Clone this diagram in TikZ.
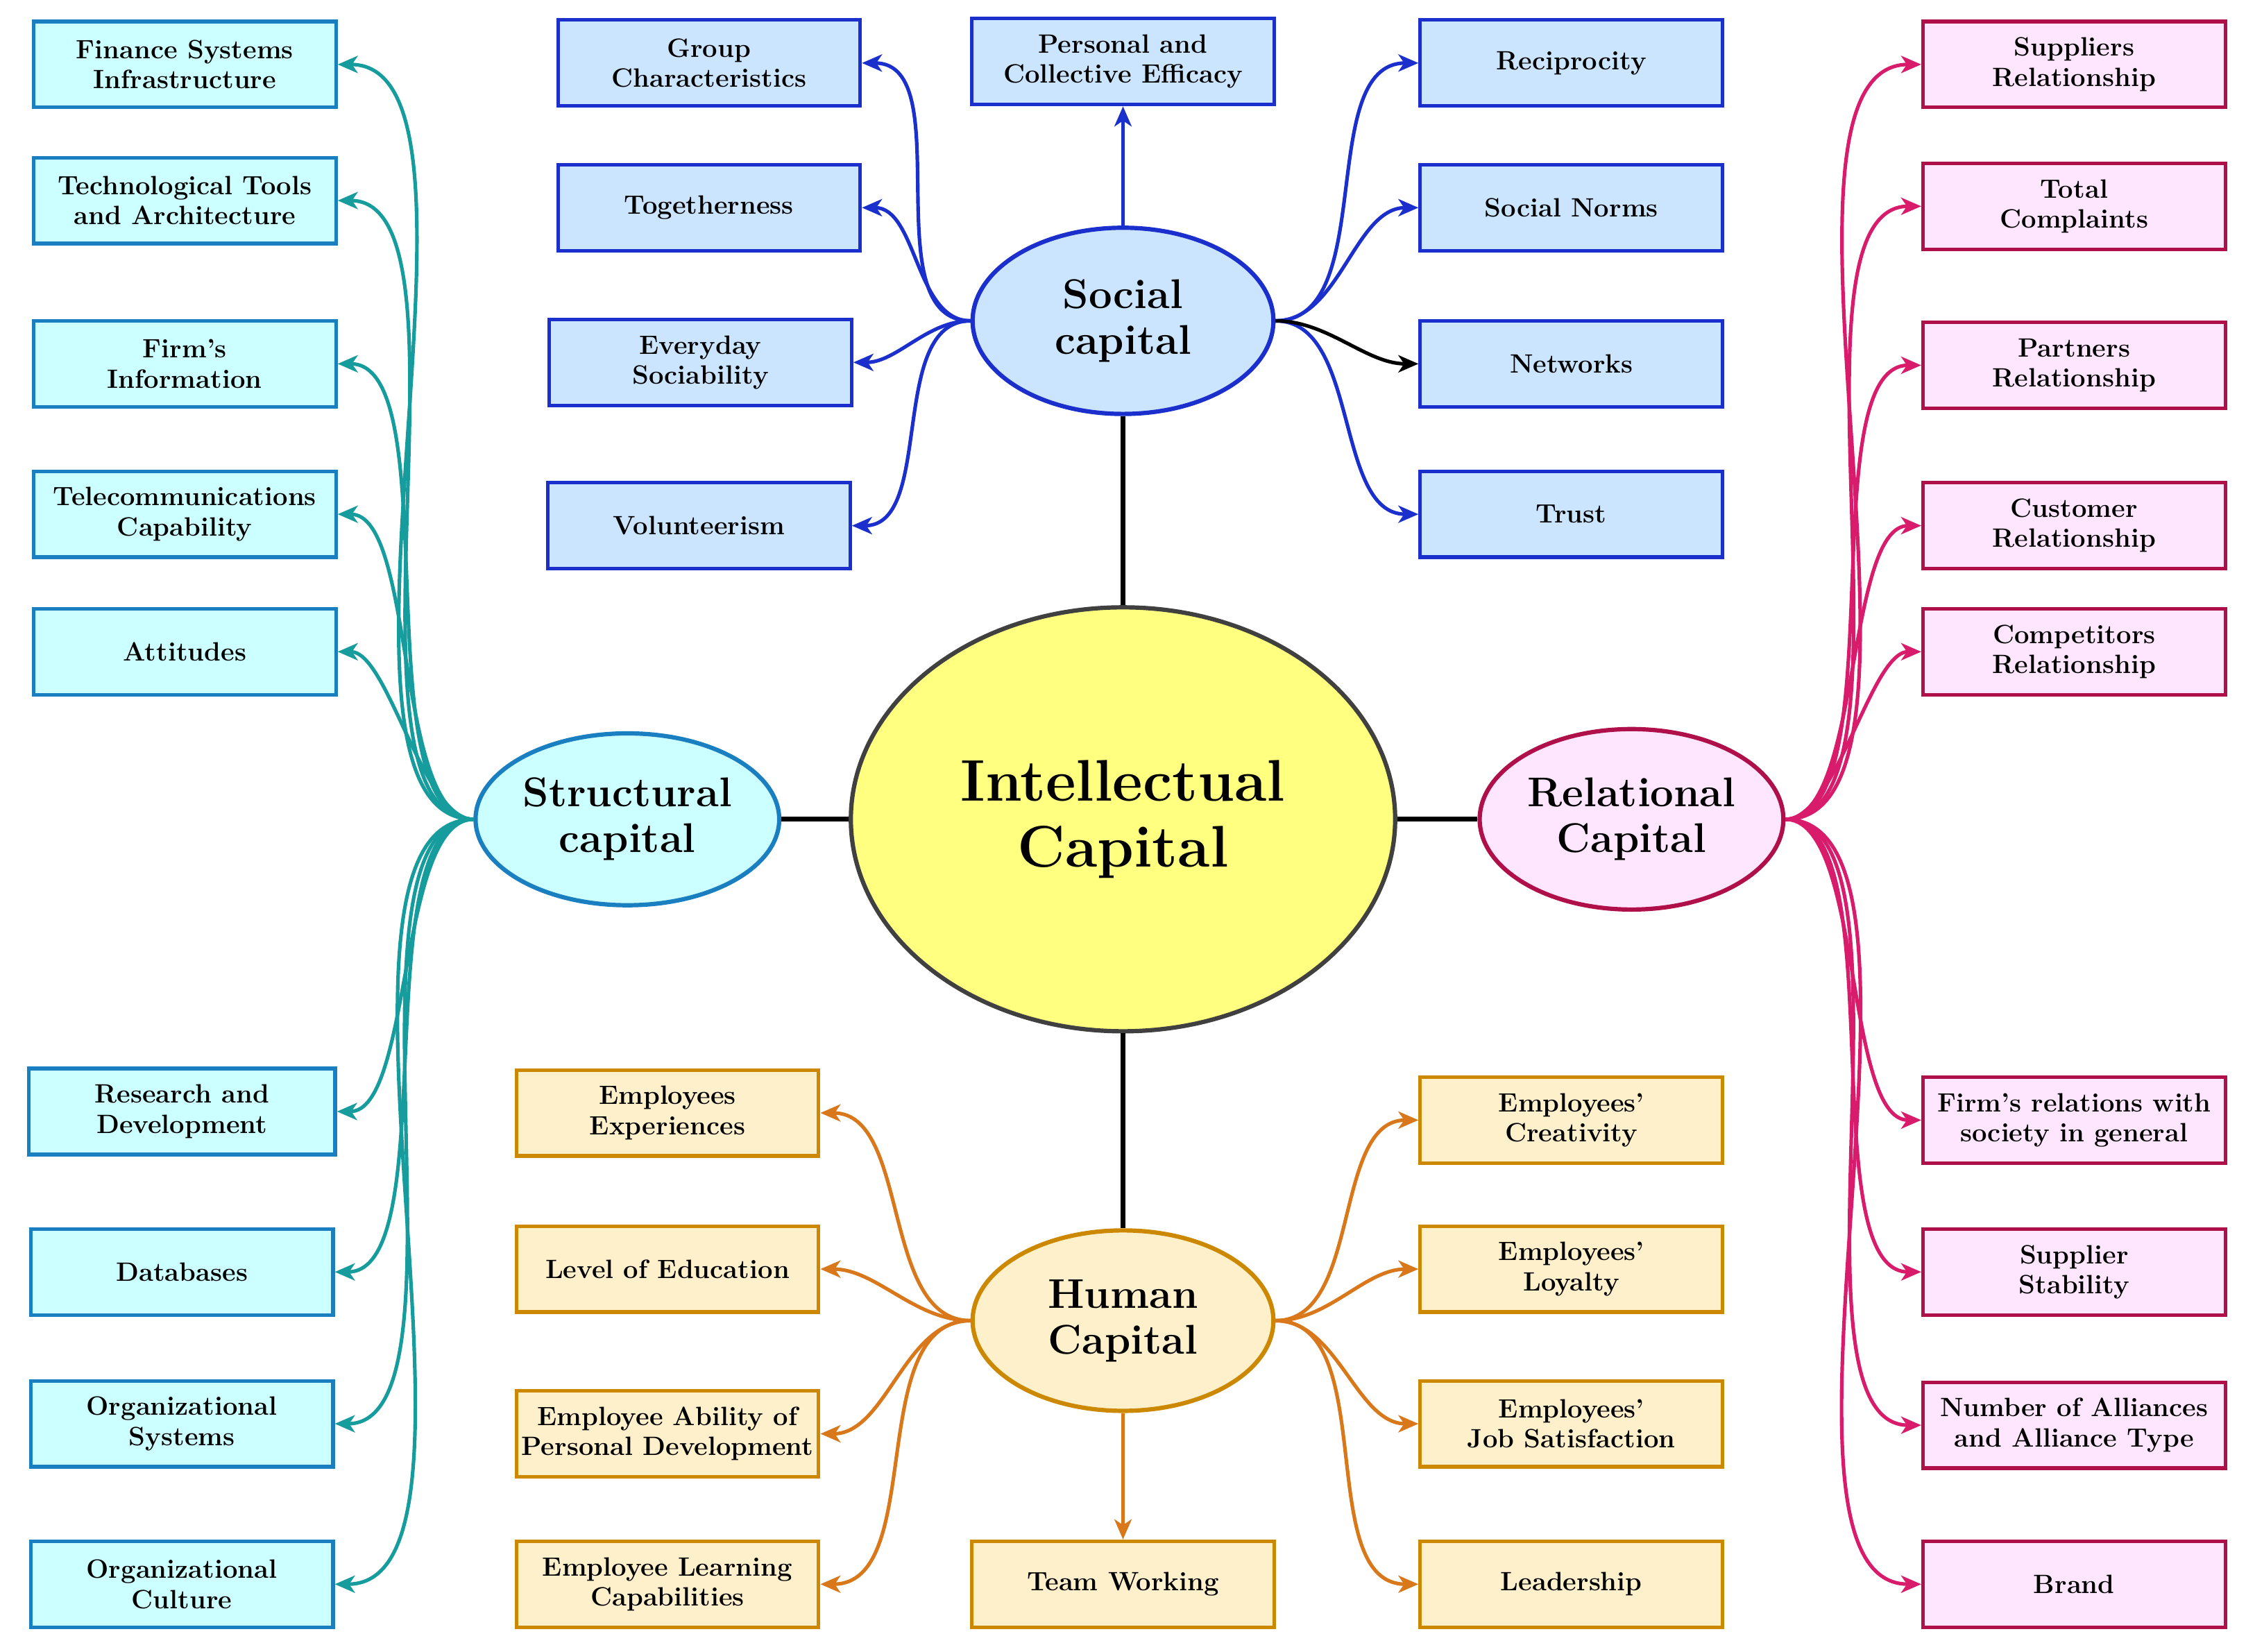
\documentclass[tikz,border=0pt]{standalone}
\usetikzlibrary{shapes.geometric,arrows.meta}
\definecolor{sfill}{HTML}{CCE5FF}\definecolor{sdraw}{HTML}{1A2FCC}
\definecolor{tfill}{HTML}{CCFFFF}\definecolor{tdraw}{HTML}{1A7FC0}\definecolor{tarr}{HTML}{169C9C}
\definecolor{rfill}{HTML}{FFE6FF}\definecolor{rdraw}{HTML}{B0104A}\definecolor{rarr}{HTML}{D81B6B}
\definecolor{hfill}{HTML}{FFF0CC}\definecolor{hdraw}{HTML}{CC8800}\definecolor{harr}{HTML}{D9781A}
\definecolor{cfill}{HTML}{FFFF80}
\begin{document}
\begin{tikzpicture}[x=1pt,y=-1pt,
 box/.style={draw,line width=2.5pt,minimum width=211pt,minimum height=60pt,inner sep=1pt,align=center,font=\fontsize{18.5}{21}\selectfont\bfseries},
 sb/.style={box,fill=sfill,draw=sdraw},
 tb/.style={box,fill=tfill,draw=tdraw},
 rb/.style={box,fill=rfill,draw=rdraw},
 hb/.style={box,fill=hfill,draw=hdraw},
 ell/.style={ellipse,line width=3pt,inner sep=0pt,align=center,font=\fontsize{29}{32}\selectfont\bfseries},
 arr/.style={line width=2.5pt,-{Stealth[length=14pt,width=12pt,inset=4pt]}},
 conn/.style={line width=3.5pt,black}]
\useasboundingbox (0,0) rectangle (1568,1153);
\node[ell,fill=cfill,draw=black!75,minimum width=380pt,minimum height=296pt,font=\fontsize{41}{46}\selectfont\bfseries] (C) at (784,572) {Intellectual\\Capital};
\node[ell,fill=sfill,draw=sdraw,minimum width=210pt,minimum height=130pt] (S) at (784,224) {Social\\capital};
\node[ell,fill=tfill,draw=tdraw,minimum width=212pt,minimum height=120pt] (T) at (438,572) {Structural\\capital};
\node[ell,fill=rfill,draw=rdraw,minimum width=212pt,minimum height=126pt] (R) at (1139,572) {Relational\\Capital};
\node[ell,fill=hfill,draw=hdraw,minimum width=210pt,minimum height=126pt] (H) at (784,922) {Human\\Capital};
\draw[conn] (C) -- (S); \draw[conn] (C) -- (T); \draw[conn] (C) -- (R); \draw[conn] (C) -- (H);
% social
\node[sb] (s1) at (495,44) {Group\\Characteristics};
\node[sb] (s2) at (495,145) {Togetherness};
\node[sb] (s3) at (489,253) {Everyday\\Sociability};
\node[sb] (s4) at (488,367) {Volunteerism};
\node[sb] (s5) at (784,43) {Personal and\\Collective Efficacy};
\node[sb] (s6) at (1097,44) {Reciprocity};
\node[sb] (s7) at (1097,145) {Social Norms};
\node[sb] (s8) at (1097,254) {Networks};
\node[sb] (s9) at (1097,359) {Trust};
\foreach \n in {s1,s2,s3,s4}{\draw[arr,sdraw] (S.west) to[out=180,in=0,looseness=0.9] (\n.east);}
\foreach \n in {s6,s7,s9}{\draw[arr,sdraw] (S.east) to[out=0,in=180,looseness=0.9] (\n.west);}
\draw[arr,black] (S.east) to[out=0,in=180,looseness=0.9] (s8.west);
\draw[arr,sdraw] (S.north) -- (s5.south);
% structural
\node[tb] (t1) at (129,45) {Finance Systems\\Infrastructure};
\node[tb] (t2) at (129,140) {Technological Tools\\and Architecture};
\node[tb] (t3) at (129,254) {Firm's\\Information};
\node[tb] (t4) at (129,359) {Telecommunications\\Capability};
\node[tb] (t5) at (129,455) {Attitudes};
\node[tb,minimum width=214pt] (t6) at (127,776) {Research and\\Development};
\node[tb] (t7) at (127,888) {Databases};
\node[tb] (t8) at (127,994) {Organizational\\Systems};
\node[tb] (t9) at (127,1106) {Organizational\\Culture};
\foreach \n in {t1,t2,t3,t4,t5,t6,t7,t8,t9}{\draw[arr,tarr] (T.west) to[out=180,in=0,looseness=0.6] (\n.east);}
% relational
\node[rb] (r1) at (1448,45) {Suppliers\\Relationship};
\node[rb] (r2) at (1448,144) {Total\\Complaints};
\node[rb] (r3) at (1448,255) {Partners\\Relationship};
\node[rb] (r4) at (1448,367) {Customer\\Relationship};
\node[rb] (r5) at (1448,455) {Competitors\\Relationship};
\node[rb] (r6) at (1448,782) {Firm's relations with\\society in general};
\node[rb] (r7) at (1448,888) {Supplier\\Stability};
\node[rb] (r8) at (1448,995) {Number of Alliances\\and Alliance Type};
\node[rb] (r9) at (1448,1106) {Brand};
\foreach \n in {r1,r2,r3,r4,r5,r6,r7,r8,r9}{\draw[arr,rarr] (R.east) to[out=0,in=180,looseness=0.6] (\n.west);}
% human
\node[hb] (h1) at (466,777) {Employees\\Experiences};
\node[hb] (h2) at (466,886) {Level of Education};
\node[hb] (h3) at (466,1001) {Employee Ability of\\Personal Development};
\node[hb] (h4) at (466,1106) {Employee Learning\\Capabilities};
\node[hb] (h5) at (784,1106) {Team Working};
\node[hb] (h6) at (1097,782) {Employees'\\Creativity};
\node[hb] (h7) at (1097,886) {Employees'\\Loyalty};
\node[hb] (h8) at (1097,994) {Employees'\\Job Satisfaction};
\node[hb] (h9) at (1097,1106) {Leadership};
\foreach \n in {h1,h2,h3,h4}{\draw[arr,harr] (H.west) to[out=180,in=0,looseness=0.9] (\n.east);}
\foreach \n in {h6,h7,h8,h9}{\draw[arr,harr] (H.east) to[out=0,in=180,looseness=0.9] (\n.west);}
\draw[arr,harr] (H.south) -- (h5.north);
\end{tikzpicture}
\end{document}
